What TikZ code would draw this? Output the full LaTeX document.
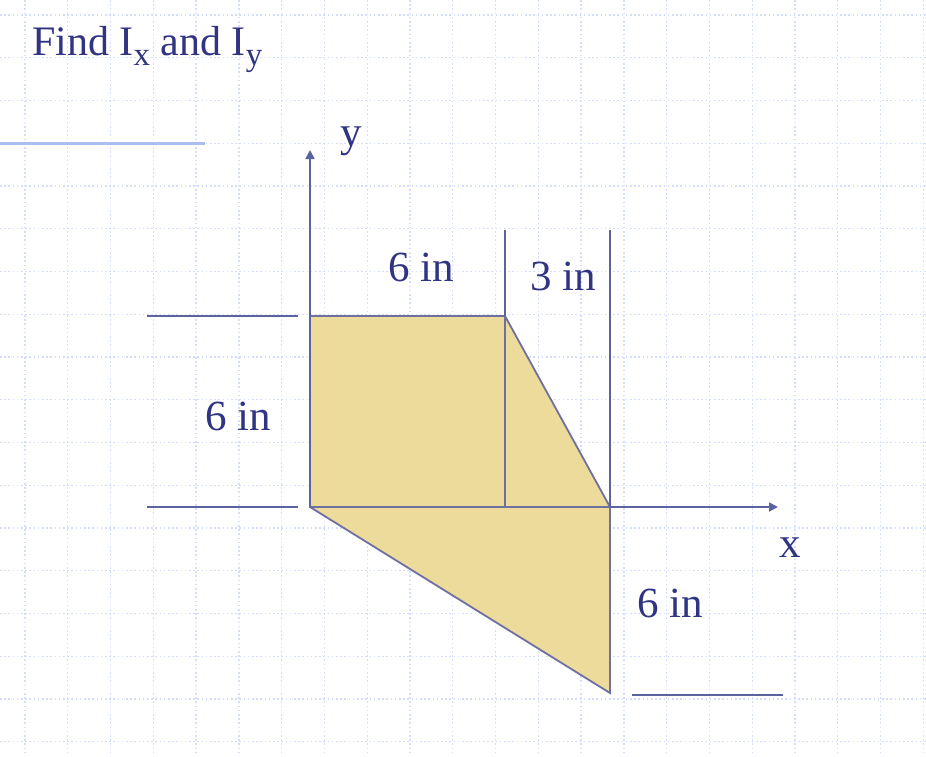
\documentclass[tikz,border=0pt]{standalone}
\usepackage{fontspec}
\setmainfont{Liberation Serif}
\usetikzlibrary{arrows.meta}
\definecolor{gridc}{RGB}{212,222,250}
\definecolor{txtc}{RGB}{48,52,130}
\definecolor{axc}{RGB}{92,100,160}
\definecolor{fillc}{RGB}{237,219,155}
\definecolor{edgec}{RGB}{110,112,160}
\definecolor{topline}{RGB}{172,190,240}
\newcommand{\mysub}[1]{\raisebox{-10pt}{\fontsize{33}{38}\selectfont #1}}
\tikzset{
  gridline/.style={gridc, line width=1.3pt, dash pattern=on 1.6pt off 2.6pt},
  lbl/.style={text=txtc, font=\fontsize{43}{48}\selectfont, inner sep=0pt},
  ext/.style={axc, line width=1.6pt},
  axis/.style={axc, line width=1.8pt, -{Triangle[length=9pt,width=9pt]}},
  areashape/.style={fill=fillc, draw=edgec, line width=1.8pt, line join=miter},
  edge/.style={edgec, line width=1.8pt},
}
\begin{document}
\begin{tikzpicture}[x=1pt,y=-1pt]
\useasboundingbox (0,0) rectangle (926,756);
\fill[white] (0,0) rectangle (926,756);
% grid
\foreach \k in {0,...,21}{\draw[gridline] ({25+42.78*\k},0) -- ({25+42.78*\k},756);}
\foreach \k in {0,...,17}{\draw[gridline] (0,{15+42.75*\k}) -- (926,{15+42.75*\k});}
% title
\node[lbl, anchor=base west, font=\fontsize{42}{48}\selectfont] (title) at (32,55) {Find I\mysub{x} and I\mysub{y}};
\coordinate (tl1) at (0,143);
\coordinate (tl2) at (205,143);
\draw[topline, line width=3pt] (tl1) -- (tl2);
% points
\coordinate (O) at (310,507);
\coordinate (A) at (310,316);
\coordinate (B) at (505,316);
\coordinate (C) at (505,507);
\coordinate (D) at (610,507);
\coordinate (E) at (610,693);
% shape
\draw[areashape] (O) -- (A) -- (B) -- (D) -- (E) -- cycle;
\draw[edge] (B) -- (C) -- (O);
\draw[edge] (C) -- (D);
% axes
\coordinate (yend) at (310,150);
\coordinate (xend) at (778,507);
\draw[axis] (O) -- (yend);
\draw[axis] (D) -- (xend);
\node[lbl] (ylab) at (351,141) {y};
\node[lbl] (xlab) at (790,548) {x};
% extension lines
\coordinate (e1a) at (147,316); \coordinate (e1b) at (298,316);
\coordinate (e2a) at (147,507); \coordinate (e2b) at (298,507);
\coordinate (e3a) at (505,230); \coordinate (e3b) at (505,316);
\coordinate (e4a) at (610,230); \coordinate (e4b) at (610,507);
\coordinate (e5a) at (632,695); \coordinate (e5b) at (783,695);
\draw[ext] (e1a) -- (e1b);
\draw[ext] (e2a) -- (e2b);
\draw[ext] (e3a) -- (e3b);
\draw[ext] (e4a) -- (e4b);
\draw[ext] (e5a) -- (e5b);
% labels
\node[lbl] (l1) at (421,267) {6 in};
\node[lbl] (l2) at (563,276) {3 in};
\node[lbl] (l3) at (238,416) {6 in};
\node[lbl] (l4) at (670,603) {6 in};
\end{tikzpicture}
\end{document}
